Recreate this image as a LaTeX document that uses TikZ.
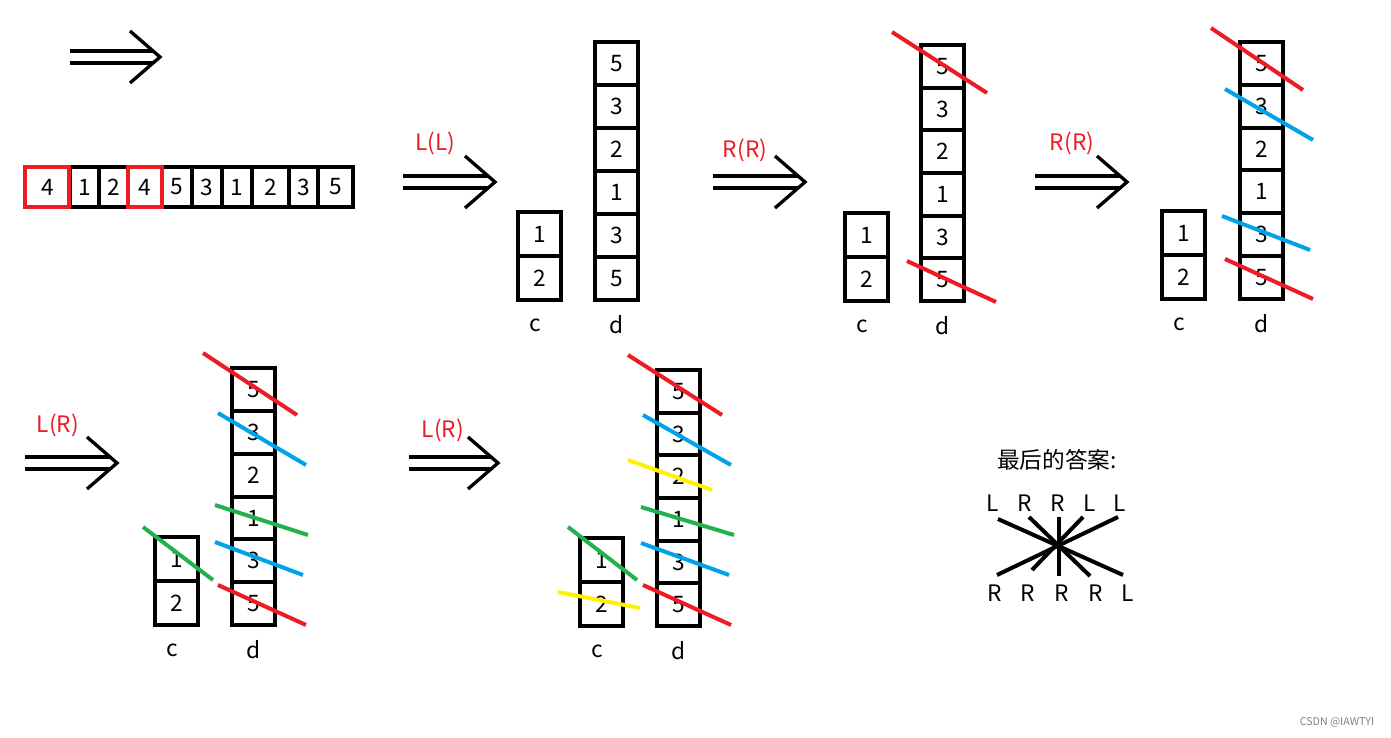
\documentclass[tikz,border=0pt]{standalone}
\usepackage{fontspec}
\setmainfont{Noto Sans CJK SC}
\definecolor{rd}{HTML}{ED1C24}
\definecolor{bl}{HTML}{00A2E8}
\definecolor{gr}{HTML}{22B14C}
\definecolor{yl}{HTML}{FFF200}
\tikzset{
 lab/.style={font=\fontsize{17}{17}\selectfont},
 rlab/.style={font=\fontsize{17}{17}\selectfont,text=rd},
 strk/.style={line width=3pt},
 arr/.style={line width=2.5pt}}
\newcommand{\dbl}[3]{% x1,x2,y
 \draw[arr] (#1,#3-6)--(#2-6,#3-6); \draw[arr] (#1,#3+6)--(#2-6,#3+6);
 \draw[arr] (#2-30,#3-26)--(#2,#3)--(#2-30,#3+26);}
\begin{document}
\begin{tikzpicture}[x=0.75pt,y=-0.75pt]
\useasboundingbox (0,0) rectangle (1391,738);
% arrows
\dbl{70}{160}{57}
\dbl{403}{495}{182}\node[rlab] (l1) at (435,143) {L(L)};
\dbl{713}{805}{182}\node[rlab] (l2) at (745,150) {R(R)};
\dbl{1035}{1127}{182}\node[rlab] (l3) at (1072,143) {R(R)};
\dbl{25}{117}{463}\node[rlab] (l4) at (58,425) {L(R)};
\dbl{409}{498}{463}\node[rlab] (l5) at (443,430) {L(R)};
% array
\draw[line width=3pt] (25,167) rectangle (353,207);
\foreach \x in {70,99,128,162,192,222,252,289,318} \draw[line width=3pt] (\x,167)--(\x,207);
\foreach \a/\b/\t [count=\i] in {25/70/4,70/99/1,99/128/2,128/162/4,162/192/5,192/222/3,222/252/1,252/289/2,289/318/3,318/353/5}
  \node[lab] (a\i) at ({(\a+\b)/2},187) {\t};
\draw[rd,line width=3pt] (25,167) rectangle (69,207);
\draw[rd,line width=3pt] (128,167) rectangle (162,207);
% stacks
\foreach \cx/\cy/\dx/\dy/\k in {518/212/595/42/1,845/213/921/45/2,1162/211/1240/42/3,155/537/232/368/4,580/538/657/370/5}{
  \draw[line width=3pt] (\cx,\cy) rectangle (\cx+43,\cy+88);
  \draw[line width=3pt] (\cx,\cy+44)--(\cx+43,\cy+44);
  \node[lab] (c\k a) at (\cx+21.5,\cy+22) {1};
  \node[lab] (c\k b) at (\cx+21.5,\cy+66) {2};
  \node[lab] (c\k) at (\cx+17,\cy+113) {c};
  \pgfmathsetmacro\h{(\cy+88-\dy)/6}
  \draw[line width=3pt] (\dx,\dy) rectangle (\dx+43,\cy+88);
  \foreach \j in {1,...,5} \draw[line width=3pt] (\dx,\dy+\j*\h)--(\dx+43,\dy+\j*\h);
  \foreach \t [count=\j] in {5,3,2,1,3,5}
    \node[lab] (d\k n\j) at (\dx+21.5,{\dy+(\j-0.5)*\h}) {\t};
  \node[lab] (d\k) at (\dx+22,\cy+113) {d};
}
% strikes
\draw[strk,rd] (892,32)--(987,93); \draw[strk,rd] (907,261)--(996,302);
\draw[strk,rd] (1211,28)--(1303,90); \draw[strk,bl] (1225,89)--(1313,140);
\draw[strk,bl] (1222,216)--(1310,250); \draw[strk,rd] (1225,259)--(1313,299);
\draw[strk,rd] (203,353)--(297,415); \draw[strk,bl] (218,413)--(306,465);
\draw[strk,gr] (215,505)--(308,535); \draw[strk,bl] (215,542)--(303,575);
\draw[strk,rd] (218,585)--(306,625); \draw[strk,gr] (143,527)--(213,580);
\draw[strk,rd] (628,355)--(722,415); \draw[strk,bl] (643,415)--(731,465);
\draw[strk,yl] (628,460)--(712,490); \draw[strk,gr] (641,507)--(734,535);
\draw[strk,bl] (641,543)--(729,575); \draw[strk,rd] (643,585)--(731,625);
\draw[strk,gr] (568,527)--(637,580); \draw[strk,yl] (558,592)--(640,608);
% answer
\node[lab] (ans) at (1057,460) {最后的答案:};
\foreach \t/\x [count=\i] in {L/993,R/1025,R/1058,L/1090,L/1120} \node[lab] (t\i) at (\x,503) {\t};
\foreach \t/\x [count=\i] in {R/995,R/1028,R/1062,R/1096,L/1128} \node[lab] (b\i) at (\x,593) {\t};
\draw[line width=3pt] (998,519)--(1123,575);
\draw[line width=3pt] (1029,517)--(1090,576);
\draw[line width=3pt] (1059,517)--(1059,576);
\draw[line width=3pt] (1083,517)--(1032,570);
\draw[line width=3pt] (1118,517)--(997,575);
\node[font=\fontsize{8}{8}\selectfont,text=gray] (w) at (1337,722) {CSDN @IAWTYI};
\end{tikzpicture}
\end{document}
